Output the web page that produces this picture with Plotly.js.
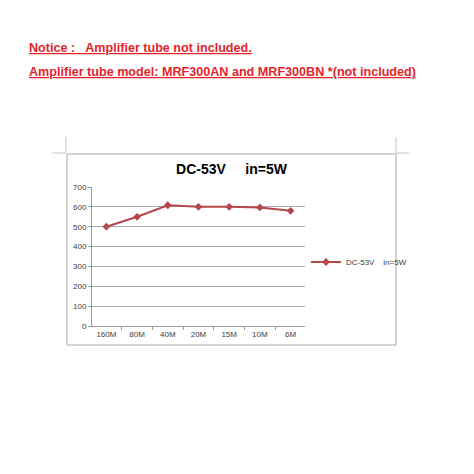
<!DOCTYPE html>
<html>
<head>
<meta charset="utf-8">
<script src="https://cdn.plot.ly/plotly-3.0.1.min.js"></script>
<style>
html,body{margin:0;padding:0;background:#fff;}
#chart{width:474px;height:474px;}
</style>
</head>
<body>
<div id="chart"></div>
<script>
const bands = ["160M", "80M", "40M", "20M", "15M", "10M", "6M"];
const outputW = [500, 550, 608, 600, 600, 597, 580];
const seriesName = "DC-53V&nbsp;&nbsp;&nbsp;&nbsp;in=5W";
const chartTitle = "DC-53V&nbsp;&nbsp;&nbsp;&nbsp;&nbsp;in=5W";
const notice1 = "Notice :&nbsp;&nbsp; Amplifier tube not included.";
const notice2 = "Amplifier tube model: MRF300AN and MRF300BN *(not included)";

// plot area in pixels
const L = 92, R = 305, T = 187, B = 326;
const W = 474, H = 474;
const px = x => (x - L) / (R - L);
const py = y => (B - y) / (B - T);

const trace = {
  x: bands, y: outputW, type: "scatter", mode: "lines+markers",
  name: seriesName,
  line: {color: "#b4474a", width: 2},
  marker: {symbol: "diamond", size: 6, color: "#b4474a"}
};

const grey = "#ababab";
const layout = {
  width: W, height: H,
  margin: {l: L, r: W - R, t: T, b: H - B, pad: 0},
  paper_bgcolor: "#fff", plot_bgcolor: "#fff",
  font: {family: "Liberation Sans, Arial, sans-serif", size: 8, color: "#404040"},
  title: {text: "<b>" + chartTitle + "</b>", xref: "container", yref: "container",
          x: 231.5 / W, y: 1 - 169 / H, xanchor: "center", yanchor: "middle",
          font: {family: "Liberation Sans, Arial, sans-serif", size: 14, color: "#000"}},
  xaxis: {type: "category", showgrid: false, showline: true, linecolor: "#9a9a9a", linewidth: 1,
          ticks: "outside", tickson: "boundaries", ticklen: 3, tickcolor: "#9a9a9a",
          tickfont: {size: 8, color: "#404040"}, fixedrange: true},
  yaxis: {range: [0, 700], dtick: 100, showgrid: true, gridcolor: grey, gridwidth: 1,
          showline: true, linecolor: "#9a9a9a", linewidth: 1, zeroline: false,
          ticks: "outside", ticklen: 3, tickcolor: "#9a9a9a",
          tickfont: {size: 8, color: "#404040"}, fixedrange: true},
  showlegend: true,
  legend: {x: px(306), xanchor: "left", y: py(262), yanchor: "middle",
           font: {size: 8, color: "#404040"}, itemwidth: 30, bgcolor: "rgba(0,0,0,0)",
           borderwidth: 0},
  shapes: [
    {type: "rect", xref: "paper", yref: "paper", x0: px(67), x1: px(396), y0: py(345), y1: py(154),
     line: {color: "#a8a8a8", width: 1}, fillcolor: "rgba(0,0,0,0)", layer: "below"},
    {type: "line", xref: "paper", yref: "paper", x0: px(66), x1: px(66), y0: py(137), y1: py(153),
     line: {color: "#c8c8c8", width: 1}},
    {type: "line", xref: "paper", yref: "paper", x0: px(52), x1: px(66), y0: py(153), y1: py(153),
     line: {color: "#c8c8c8", width: 1}},
    {type: "line", xref: "paper", yref: "paper", x0: px(396), x1: px(396), y0: py(137), y1: py(153),
     line: {color: "#c8c8c8", width: 1}},
    {type: "line", xref: "paper", yref: "paper", x0: px(396), x1: px(409), y0: py(153), y1: py(153),
     line: {color: "#c8c8c8", width: 1}}
  ],
  annotations: [
    {text: "<b><u>" + notice1 + "</u></b>", xref: "paper", yref: "paper", x: px(27), y: py(48),
     xanchor: "left", yanchor: "middle", showarrow: false,
     font: {family: "Liberation Sans, Arial, sans-serif", size: 12.6, color: "#e3252c"}},
    {text: "<b><u>" + notice2 + "</u></b>", xref: "paper", yref: "paper", x: px(27), y: py(72),
     xanchor: "left", yanchor: "middle", showarrow: false,
     font: {family: "Liberation Sans, Arial, sans-serif", size: 12.6, color: "#e3252c"}}
  ]
};

Plotly.newPlot("chart", [trace], layout, {displayModeBar: false, staticPlot: true});
</script>
</body>
</html>
